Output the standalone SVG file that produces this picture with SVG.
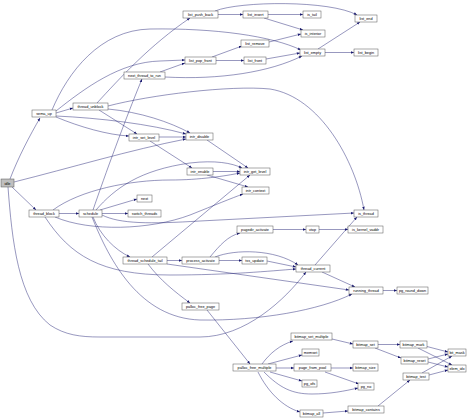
<svg xmlns="http://www.w3.org/2000/svg" width="474" height="420" viewBox="0 0 474 420">
<defs>
<marker id="ah" markerUnits="userSpaceOnUse" markerWidth="3.6" markerHeight="3.2" viewBox="0 0 10 10" refX="10" refY="5" orient="auto"><path d="M0,1 L10,5 L0,9 z" fill="#191970"/></marker>
<style>
.n rect{fill:#fff;stroke:#555;stroke-width:0.5}
.n text{font-family:"Liberation Sans",Arial,sans-serif;font-size:3.8px;text-anchor:middle;fill:#000}
#n-idle rect{fill:#bfbfbf}
#edges path{fill:none;stroke:#191970;stroke-width:0.45;marker-end:url(#ah)}
</style>
</defs>
<rect width="474" height="420" fill="#fff"/>
<g id="edges">
<path d="M10,179 C18,158 30,135 40,118"/>
<path d="M14,182 C70,168 130,150 186,139"/>
<path d="M12,187 L36,210"/>
<path d="M8,187 C12,240 18,300 50,325 C65,335 80,337 100,337 L200,337 C245,337 285,300 306,272"/>
<path d="M56,113 L73,108"/>
<path d="M52,110 C68,72 100,30 150,29 C215,28 272,36 301,50"/>
<path d="M56,111 C85,88 120,62 160,61 L185,60"/>
<path d="M56,116 C100,118 150,124 186,134"/>
<path d="M56,117 C80,127 108,135 129,136"/>
<path d="M97,103 C120,78 150,45 190,18"/>
<path d="M108,106 C150,95 230,85 270,89 C320,97 355,160 364,210"/>
<path d="M108,109 C140,112 170,122 190,133"/>
<path d="M99,110 L137,134"/>
<path d="M160,72 L185,63"/>
<path d="M165,77 C220,80 270,72 302,56"/>
<path d="M218,14.5 L243,14.5"/>
<path d="M215,11 C240,1 330,0 357,15"/>
<path d="M268,14.5 L303,14.5"/>
<path d="M264,18 L303,30"/>
<path d="M269,42 L301,34"/>
<path d="M212,57 L242,46"/>
<path d="M216,60.5 L244,60.5"/>
<path d="M266,59 L300,53"/>
<path d="M318,49 L360,22"/>
<path d="M325,52.5 L354,52.5"/>
<path d="M159,137 L186,137"/>
<path d="M150,141 L192,168"/>
<path d="M207,140 L248,168"/>
<path d="M213,171.5 L240,171.5"/>
<path d="M207,175 L248,187"/>
<path d="M93,210 C105,175 125,120 142,79"/>
<path d="M59,213.5 L79,213.5"/>
<path d="M53,210 C80,190 130,180 170,180 C200,180 225,176 240,173"/>
<path d="M55,217 C90,232 150,230 190,215 C215,205 232,198 243,194"/>
<path d="M45,217 C70,255 100,275 170,275 C230,275 270,271 296,269"/>
<path d="M100,210 L137,199"/>
<path d="M102,213.5 L128,213.5"/>
<path d="M93,217 C100,235 115,250 130,257"/>
<path d="M92,217 C110,262 140,318 200,320 C260,321 320,310 352,294"/>
<path d="M102,215 C120,224 150,224 200,221 L354,213"/>
<path d="M96,210 C115,188 140,170 190,163 C215,160 232,163 242,168"/>
<path d="M167,260.5 L182,260.5"/>
<path d="M152,257 L250,175"/>
<path d="M148,264 C160,280 175,292 190,303"/>
<path d="M167,264 L349,290"/>
<path d="M210,257 C220,245 228,236 240,233"/>
<path d="M219,260.5 L242,260.5"/>
<path d="M215,257 C235,249 275,249 298,265"/>
<path d="M267,261 L296,267"/>
<path d="M273,229.5 L306,229.5"/>
<path d="M319,229.5 L348,229.5"/>
<path d="M315,265 L357,217"/>
<path d="M322,272 L355,287"/>
<path d="M383,290.5 L397,290.5"/>
<path d="M207,310 L250,364"/>
<path d="M262,364 C270,353 280,345 293,341"/>
<path d="M268,364 L302,355"/>
<path d="M276,368 L294,368"/>
<path d="M270,372 L302,381"/>
<path d="M264,372 C280,388 292,394 312,394 C330,394 345,391 358,388"/>
<path d="M258,372 C268,392 283,407 300,412"/>
<path d="M331,368 L353,368"/>
<path d="M325,372 L359,384"/>
<path d="M332,339 L353,344"/>
<path d="M378,344.5 L400,344.5"/>
<path d="M375,348 L401,358"/>
<path d="M425,346 L448,352"/>
<path d="M418,348 L452,365"/>
<path d="M428,359 L448,354"/>
<path d="M428,362 L448,367"/>
<path d="M422,373 L452,356"/>
<path d="M429,375 L448,370"/>
<path d="M323,413 L348,411"/>
<path d="M378,406 L410,380"/>
</g>
<g id="n-idle" class="n"><rect x="1" y="179" width="13" height="8"/><text x="7.5" y="184.5">idle</text></g>
<g id="n-sema_up" class="n"><rect x="32" y="110" width="24" height="7"/><text x="44" y="115">sema_up</text></g>
<g id="n-thread_unblock" class="n"><rect x="73" y="103" width="35" height="7"/><text x="90.5" y="108">thread_unblock</text></g>
<g id="n-next_thread_to_run" class="n"><rect x="124" y="72" width="41" height="7"/><text x="144.5" y="77">next_thread_to_run</text></g>
<g id="n-intr_set_level" class="n"><rect x="129" y="134" width="30" height="7"/><text x="144" y="139">intr_set_level</text></g>
<g id="n-list_push_back" class="n"><rect x="183" y="11" width="35" height="7"/><text x="200.5" y="16">list_push_back</text></g>
<g id="n-list_insert" class="n"><rect x="243" y="11" width="25" height="7"/><text x="255.5" y="16">list_insert</text></g>
<g id="n-is_tail" class="n"><rect x="303" y="11" width="18" height="7"/><text x="312" y="16">is_tail</text></g>
<g id="n-list_end" class="n"><rect x="355" y="15" width="22" height="7"/><text x="366" y="20">list_end</text></g>
<g id="n-is_interior" class="n"><rect x="301" y="30" width="24" height="7"/><text x="313" y="35">is_interior</text></g>
<g id="n-list_empty" class="n"><rect x="300" y="49" width="25" height="7"/><text x="312.5" y="54">list_empty</text></g>
<g id="n-list_begin" class="n"><rect x="354" y="49" width="24" height="7"/><text x="366" y="54">list_begin</text></g>
<g id="n-list_remove" class="n"><rect x="241" y="40" width="28" height="7"/><text x="255" y="45">list_remove</text></g>
<g id="n-list_pop_front" class="n"><rect x="185" y="57" width="31" height="7"/><text x="200.5" y="62">list_pop_front</text></g>
<g id="n-list_front" class="n"><rect x="244" y="57" width="22" height="7"/><text x="255" y="62">list_front</text></g>
<g id="n-intr_disable" class="n"><rect x="186" y="133" width="27" height="7"/><text x="199.5" y="138">intr_disable</text></g>
<g id="n-intr_enable" class="n"><rect x="187" y="168" width="26" height="7"/><text x="200" y="173">intr_enable</text></g>
<g id="n-intr_get_level" class="n"><rect x="240" y="168" width="30" height="7"/><text x="255" y="173">intr_get_level</text></g>
<g id="n-intr_context" class="n"><rect x="242" y="187" width="27" height="7"/><text x="255.5" y="192">intr_context</text></g>
<g id="n-next" class="n"><rect x="137" y="195" width="15" height="7"/><text x="144.5" y="200">next</text></g>
<g id="n-switch_threads" class="n"><rect x="128" y="210" width="33" height="7"/><text x="144.5" y="215">switch_threads</text></g>
<g id="n-thread_block" class="n"><rect x="29" y="210" width="30" height="7"/><text x="44" y="215">thread_block</text></g>
<g id="n-schedule" class="n"><rect x="79" y="210" width="23" height="7"/><text x="90.5" y="215">schedule</text></g>
<g id="n-thread_schedule_tail" class="n"><rect x="123" y="257" width="44" height="7"/><text x="145" y="262">thread_schedule_tail</text></g>
<g id="n-process_activate" class="n"><rect x="182" y="257" width="37" height="7"/><text x="200.5" y="262">process_activate</text></g>
<g id="n-tss_update" class="n"><rect x="242" y="257" width="25" height="7"/><text x="254.5" y="262">tss_update</text></g>
<g id="n-pagedir_activate" class="n"><rect x="237" y="226" width="36" height="7"/><text x="255" y="231">pagedir_activate</text></g>
<g id="n-vtop" class="n"><rect x="306" y="226" width="13" height="7"/><text x="312.5" y="231">vtop</text></g>
<g id="n-is_kernel_vaddr" class="n"><rect x="348" y="226" width="35" height="7"/><text x="365.5" y="231">is_kernel_vaddr</text></g>
<g id="n-is_thread" class="n"><rect x="354" y="210" width="24" height="7"/><text x="366" y="215">is_thread</text></g>
<g id="n-thread_current" class="n"><rect x="296" y="265" width="34" height="7"/><text x="313" y="270">thread_current</text></g>
<g id="n-running_thread" class="n"><rect x="349" y="287" width="34" height="7"/><text x="366" y="292">running_thread</text></g>
<g id="n-pg_round_down" class="n"><rect x="397" y="287" width="31" height="7"/><text x="412.5" y="292">pg_round_down</text></g>
<g id="n-palloc_free_page" class="n"><rect x="182" y="303" width="37" height="7"/><text x="200.5" y="308">palloc_free_page</text></g>
<g id="n-palloc_free_multiple" class="n"><rect x="233" y="364" width="43" height="7"/><text x="254.5" y="369">palloc_free_multiple</text></g>
<g id="n-bitmap_set_multiple" class="n"><rect x="291" y="333" width="41" height="7"/><text x="311.5" y="338">bitmap_set_multiple</text></g>
<g id="n-memset" class="n"><rect x="302" y="349" width="17" height="7"/><text x="310.5" y="354">memset</text></g>
<g id="n-page_from_pool" class="n"><rect x="294" y="364" width="37" height="7"/><text x="312.5" y="369">page_from_pool</text></g>
<g id="n-pg_ofs" class="n"><rect x="302" y="380" width="15" height="7"/><text x="309.5" y="385">pg_ofs</text></g>
<g id="n-pg_no" class="n"><rect x="358" y="383" width="16" height="7"/><text x="366" y="388">pg_no</text></g>
<g id="n-bitmap_all" class="n"><rect x="300" y="410" width="23" height="7"/><text x="311.5" y="415">bitmap_all</text></g>
<g id="n-bitmap_contains" class="n"><rect x="348" y="406" width="36" height="7"/><text x="366" y="411">bitmap_contains</text></g>
<g id="n-bitmap_set" class="n"><rect x="353" y="341" width="25" height="7"/><text x="365.5" y="346">bitmap_set</text></g>
<g id="n-bitmap_size" class="n"><rect x="353" y="364" width="25" height="7"/><text x="365.5" y="369">bitmap_size</text></g>
<g id="n-bitmap_mark" class="n"><rect x="400" y="341" width="27" height="7"/><text x="413.5" y="346">bitmap_mark</text></g>
<g id="n-bitmap_reset" class="n"><rect x="401" y="357" width="27" height="7"/><text x="414.5" y="362">bitmap_reset</text></g>
<g id="n-bitmap_test" class="n"><rect x="403" y="373" width="26" height="7"/><text x="416" y="378">bitmap_test</text></g>
<g id="n-bit_mask" class="n"><rect x="448" y="349" width="18" height="7"/><text x="457" y="354">bit_mask</text></g>
<g id="n-elem_idx" class="n"><rect x="448" y="365" width="18" height="7"/><text x="457" y="370">elem_idx</text></g>
</svg>
